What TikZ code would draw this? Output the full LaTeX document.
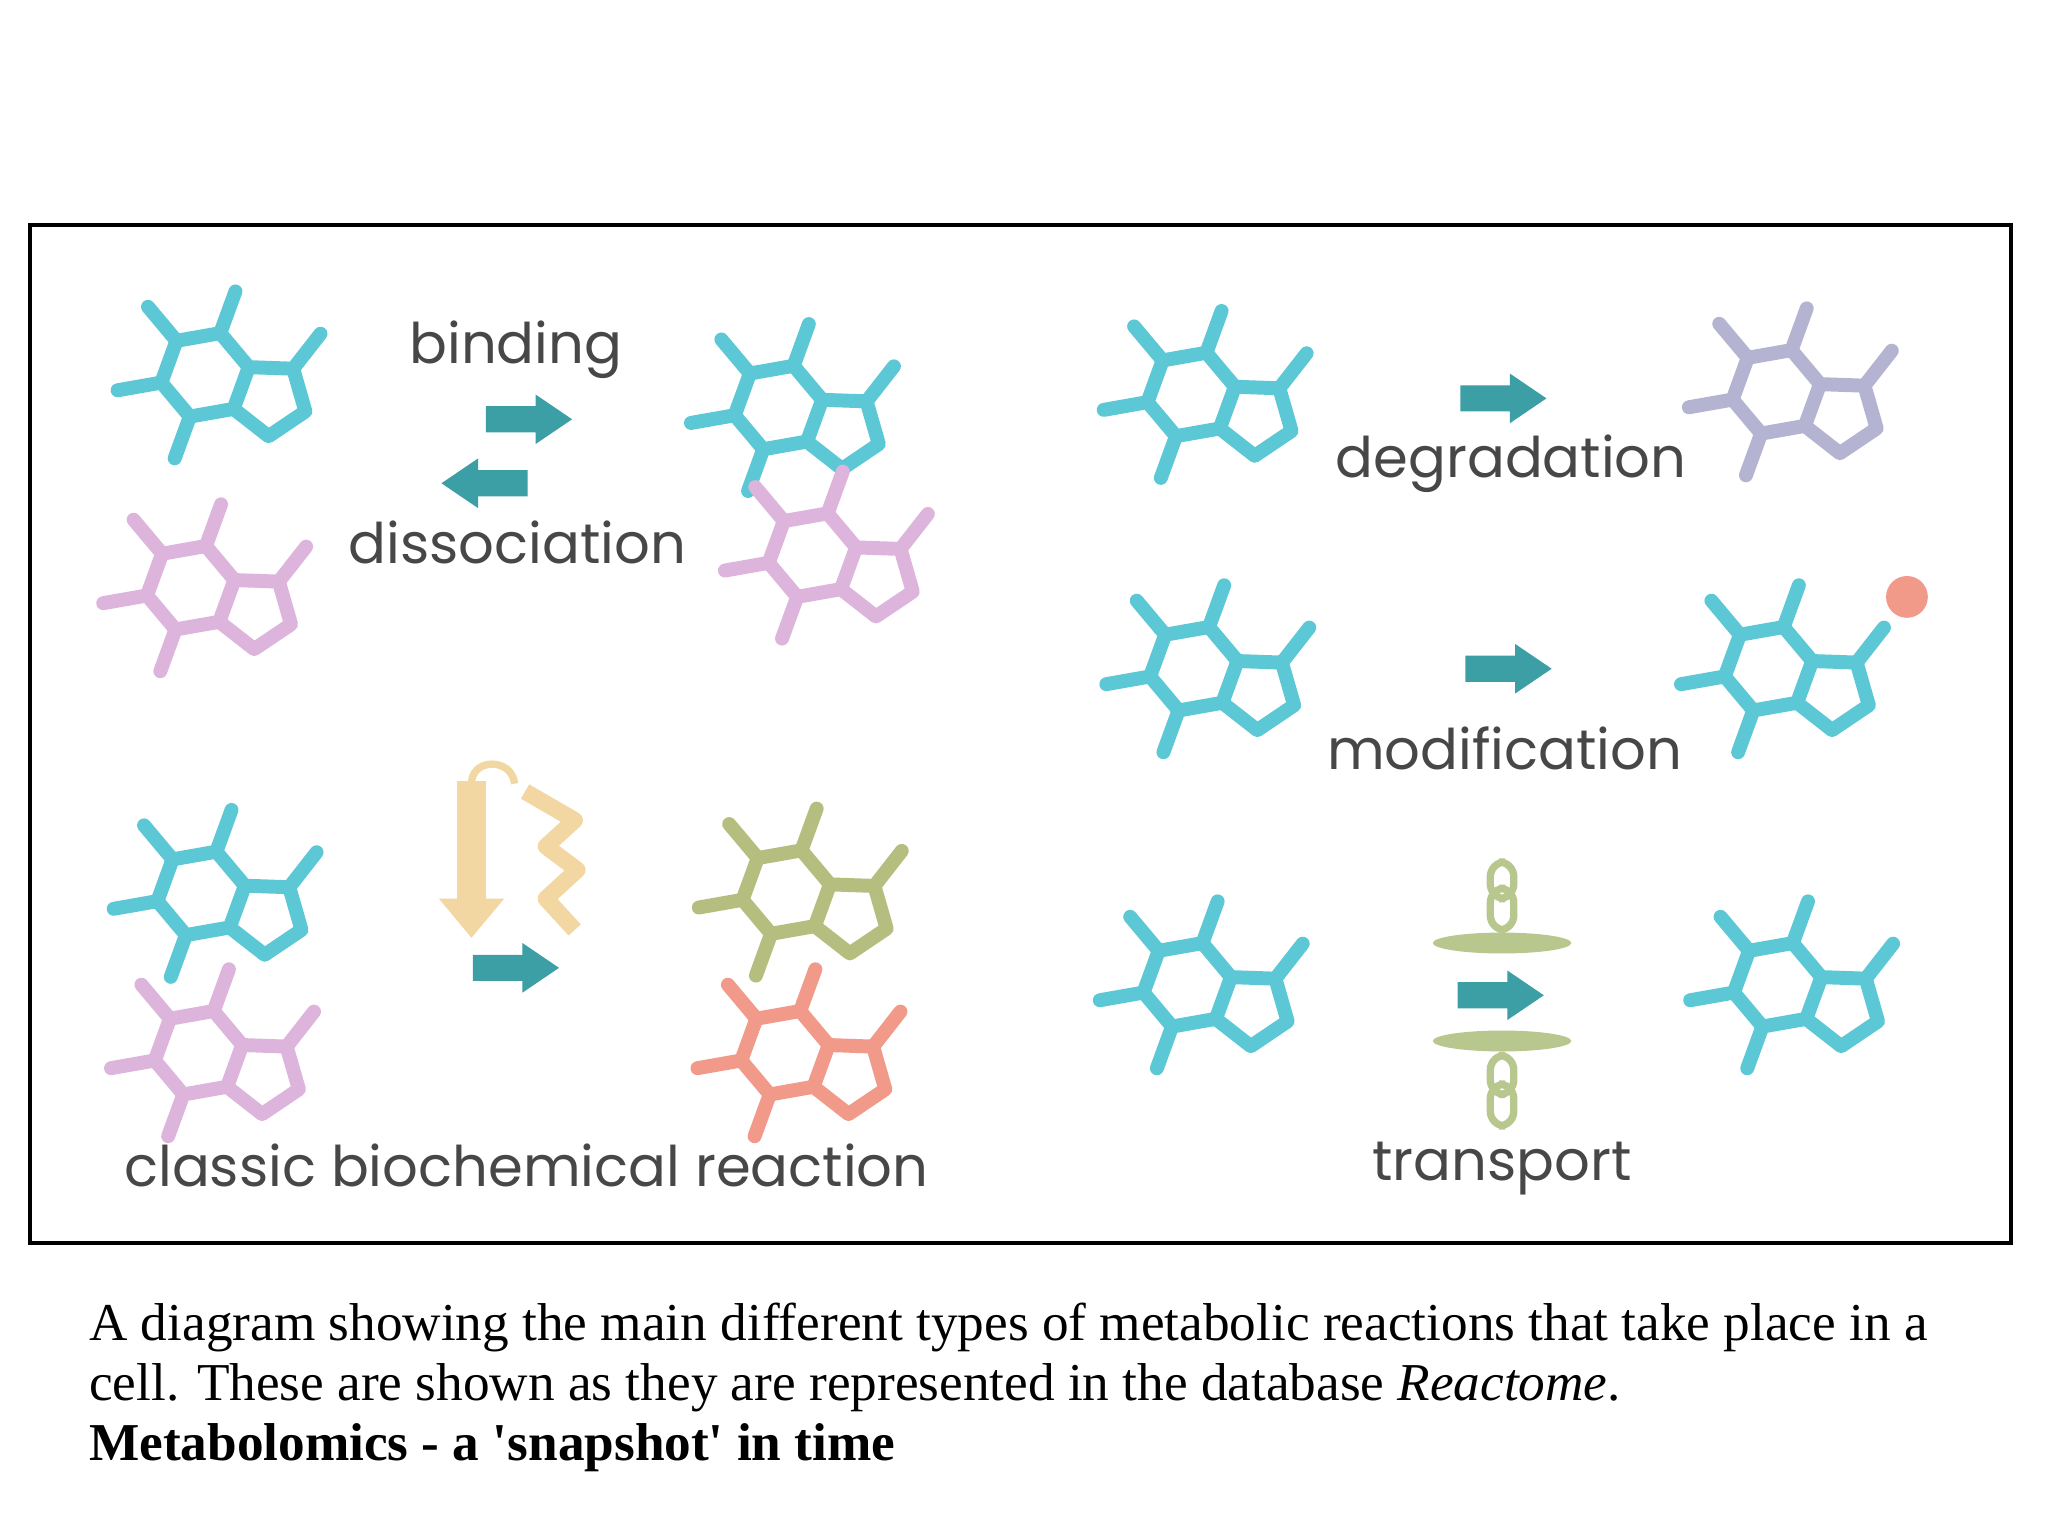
\documentclass[tikz,border=0pt]{standalone}
\usepackage{fontspec}
\setmainfont{Liberation Serif}
\setsansfont{Poppins}
\definecolor{cy}{HTML}{5CC8D6}
\definecolor{pk}{HTML}{DCB4DC}
\definecolor{gr}{HTML}{B5BE7E}
\definecolor{sa}{HTML}{F29A8A}
\definecolor{pu}{HTML}{B4B4D2}
\definecolor{tl}{HTML}{3D9FA6}
\definecolor{bg}{HTML}{F3D7A2}
\definecolor{ol}{HTML}{B8C78E}
\tikzset{
 mol/.style={line width=7.6pt,line cap=round,line join=round},
 lab/.style={font=\sffamily\fontsize{30.5}{32}\selectfont,text=black!72,inner sep=0pt},
 captxt/.style={font=\fontsize{29}{30}\selectfont,anchor=base west,inner sep=0pt},
 pics/molec/.style={code={
  \begin{scope}[x=8.5mm,y=8.5mm,rotate=-20]
  \draw[mol,#1] (90:1)--(150:1)--(210:1)--(270:1)--(330:1)--(30:1)--cycle;
  \draw[mol,#1] (30:1)--(1.817,0.809)--(2.405,0)--(1.817,-0.809)--(330:1);
  \draw[mol,#1] (90:1)--(90:2) (150:1)--(150:2) (210:1)--(210:2) (270:1)--(270:2) (1.817,0.809)--(2.126,1.76);
  \end{scope}}},
 pics/barrow/.style={code={
  \fill[tl] (-33,-10)--(5,-10)--(5,-19)--(33,0)--(5,19)--(5,10)--(-33,10)--cycle;}}
}
\begin{document}
\begin{tikzpicture}[x=0.25mm,y=-0.25mm]
\useasboundingbox[fill=white] (0,0) rectangle (1568,1176);
\draw[line width=2.2pt] (23,172) rectangle (1540,952);
% molecules
\pic (m1) at (157,287) {molec=cy};
\pic (m2) at (146,450) {molec=pk};
\pic (m3) at (596,312) {molec=cy};
\pic (m4) at (622,425) {molec=pk};
\pic (m5) at (912,302) {molec=cy};
\pic (m6) at (1360,300) {molec=pu};
\pic (m7) at (914,512) {molec=cy};
\pic (m8) at (1354,512) {molec=cy};
\fill[sa] (1460,457) circle (16);
\pic (m9) at (909,754) {molec=cy};
\pic (m10) at (1361,754) {molec=cy};
\pic (m11) at (154,684) {molec=cy};
\pic (m12) at (152,806) {molec=pk};
\pic (m13) at (602,683) {molec=gr};
\pic (m14) at (601,806) {molec=sa};
% arrows
\pic (a1) at (405,321) {barrow};
\pic[rotate=180] (a2) at (371,370) {barrow};
\pic (a3) at (1151,305) {barrow};
\pic (a4) at (1155,512) {barrow};
\pic (a5) at (1149,762) {barrow};
\pic (a6) at (395,741) {barrow};
% enzyme
\fill[bg] (350,598)--(372,598)--(372,688)--(386,688)--(361,718)--(336,688)--(350,688)--cycle;
\draw[bg,line width=4pt] (361,600) .. controls (361,580) and (392,580) .. (394,600);
\draw[bg,line width=9pt,line join=round] (402,606)--(440,628)--(418,648)--(442,666)--(418,688)--(440,712);
% transport
\fill[ol] (1150,722) ellipse (53 and 8);
\fill[ol] (1150,797) ellipse (53 and 8);
\draw[ol,line width=4pt,rounded corners=8] (1141,660) rectangle (1159,688);
\draw[ol,line width=4pt,rounded corners=8] (1141,680) rectangle (1159,712);
\draw[ol,line width=4pt,rounded corners=8] (1141,808) rectangle (1159,838);
\draw[ol,line width=4pt,rounded corners=8] (1141,830) rectangle (1159,862);
% labels
\node[lab] (t1) at (395,268) {binding};
\node[lab] (t2) at (396,415) {dissociation};
\node[lab] (t3) at (1157,355) {degradation};
\node[lab] (t4) at (1152,573) {modification};
\node[lab] (t5) at (403,892) {classic biochemical reaction};
\node[lab] (t6) at (1150,895) {transport};
% caption
\node[captxt] (c1) at (68,1026) {A diagram showing the main different types of metabolic reactions that take place in a};
\node[captxt] (c2) at (68,1072) {cell. These are shown as they are represented in the database \textit{Reactome}.};
\node[captxt] (c3) at (68,1118) {\textbf{Metabolomics - a \textquotesingle snapshot\textquotesingle\ in time}};
\end{tikzpicture}
\end{document}
